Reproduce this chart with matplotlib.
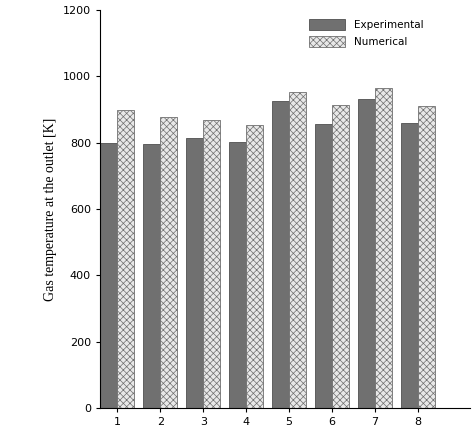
import numpy as np
import matplotlib
matplotlib.use("Agg")
import matplotlib.pyplot as plt

cases = [1, 2, 3, 4, 5, 6, 7, 8]
experimental = [800, 795, 815, 802, 925, 857, 930, 858]
numerical = [897, 877, 868, 853, 953, 912, 965, 910]

fig = plt.figure(figsize=(4.74, 4.44), dpi=100)
ax = fig.add_axes([0.211, 0.081, 0.78, 0.897])

x = np.arange(len(cases)) + 1
w = 0.4
plt.rcParams['hatch.color'] = "#888888"
plt.rcParams['hatch.linewidth'] = 0.5
ax.bar(x - w/2, experimental, w, color="#707070", edgecolor="#505050", lw=0.6, label="Experimental")
ax.bar(x + w/2, numerical, w, color="#e8e8e8", edgecolor="#707070", hatch="xxxxx", lw=0.6, label="Numerical")

ax.set_xlim(0.6, 9.2)
ax.set_ylim(0, 1200)
ax.set_xticks(x)
ax.set_yticks(range(0, 1201, 200))
ax.spines["top"].set_visible(False)
ax.spines["right"].set_visible(False)
ax.tick_params(labelsize=8, direction="out", length=3)
ax.set_ylabel("Gas temperature at the outlet [K]", family="Liberation Serif", fontsize=10)
ax.legend(loc="upper right", bbox_to_anchor=(0.9, 1.0), frameon=False, fontsize=7.5,
          handlelength=3.5, handleheight=1.3)

fig.savefig("out.png", dpi=100)
